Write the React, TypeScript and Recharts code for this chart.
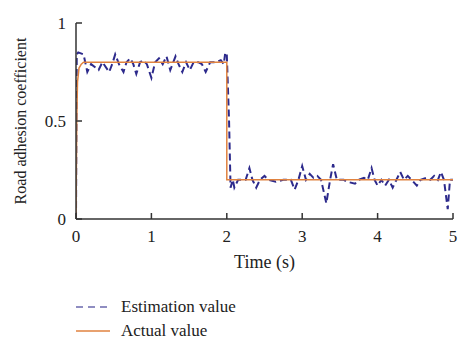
import React from "react";
import { LineChart, Line, XAxis, YAxis, Legend } from "recharts";

const estTime = [
  0, 0.01, 0.03, 0.1, 0.15, 0.2, 0.3, 0.35, 0.44, 0.48, 0.52, 0.57, 0.63, 0.67, 0.72, 0.76, 0.8, 0.85, 0.89,
  0.94, 1.0, 1.05, 1.1, 1.15, 1.2, 1.25, 1.32, 1.36, 1.41, 1.46, 1.51, 1.56, 1.62, 1.67, 1.72, 1.78, 1.85,
  1.92, 1.96, 1.98, 2.0, 2.03, 2.05, 2.08, 2.1, 2.15, 2.25, 2.3, 2.34, 2.39, 2.44, 2.5, 2.55, 2.65, 2.75,
  2.85, 2.9, 2.95, 3.0, 3.05, 3.1, 3.15, 3.2, 3.25, 3.32, 3.37, 3.41, 3.46, 3.55, 3.6, 3.7, 3.75, 3.82,
  3.87, 3.92, 3.96, 4.0, 4.05, 4.1, 4.15, 4.2, 4.25, 4.3, 4.35, 4.4, 4.45, 4.52, 4.57, 4.65, 4.7, 4.75,
  4.8, 4.84, 4.88, 4.93, 4.96, 5.0,
];
const estValue = [
  0, 0.84, 0.85, 0.84, 0.75, 0.79, 0.76, 0.8, 0.75, 0.79, 0.84, 0.79, 0.75, 0.8, 0.82, 0.79, 0.74, 0.8, 0.81,
  0.79, 0.72, 0.8, 0.82, 0.79, 0.83, 0.76, 0.83, 0.79, 0.75, 0.8, 0.76, 0.8, 0.8, 0.79, 0.75, 0.8, 0.8,
  0.81, 0.79, 0.85, 0.84, 0.5, 0.16, 0.2, 0.16, 0.2, 0.2, 0.26, 0.2, 0.16, 0.2, 0.22, 0.2, 0.19, 0.2,
  0.2, 0.15, 0.2, 0.27, 0.2, 0.23, 0.21, 0.22, 0.2, 0.08, 0.2, 0.28, 0.2, 0.2, 0.19, 0.18, 0.2, 0.21,
  0.2, 0.26, 0.2, 0.17, 0.2, 0.17, 0.2, 0.16, 0.2, 0.24, 0.2, 0.22, 0.2, 0.17, 0.2, 0.21, 0.2, 0.22,
  0.2, 0.24, 0.2, 0.05, 0.2, 0.2,
];

const actTime = [0, 0.01, 0.02, 0.04, 0.07, 0.1, 2.0, 2.0, 5.0];
const actValue = [0, 0.5, 0.7, 0.77, 0.79, 0.8, 0.8, 0.2, 0.2];

const xTicks = [0, 1, 2, 3, 4, 5];
const yTicks = [0, 0.5, 1];

const estData = estTime.map((t, i) => ({ t, v: estValue[i] }));
const actData = actTime.map((t, i) => ({ t, v: actValue[i] }));

const NAVY = "#2d2a8c";
const ORANGE = "#e0823f";
const AXIS = "#333";
const FONT = "Liberation Serif";

// ticks point inward, so the tick mark is drawn by hand next to its label
const X_GAP = 11;
const Y_GAP = 10;

function XTick({ x, y, payload }: any) {
  const axisY = y - X_GAP;
  return (
    <g>
      <line x1={x} y1={axisY} x2={x} y2={axisY - 6} stroke={AXIS} strokeWidth={1.5} />
      <text x={x} y={y} dy="0.71em" textAnchor="middle" fill="#222" style={{ fontSize: 17, fontFamily: FONT }}>
        {payload.value}
      </text>
    </g>
  );
}

function YTick({ x, y, payload }: any) {
  const axisX = x + Y_GAP;
  return (
    <g>
      <line x1={axisX} y1={y} x2={axisX + 6} y2={y} stroke={AXIS} strokeWidth={1.5} />
      <text x={x} y={y} dy="0.355em" textAnchor="end" fill="#222" style={{ fontSize: 17, fontFamily: FONT }}>
        {payload.value}
      </text>
    </g>
  );
}

function LegendBox() {
  return (
    <div style={{ fontFamily: FONT, fontSize: 17, color: "#222", lineHeight: "24px" }}>
      <div style={{ display: "flex", alignItems: "center" }}>
        <svg width={34} height={10} style={{ marginRight: 11 }}>
          <line x1={0} y1={5} x2={34} y2={5} stroke={NAVY} strokeWidth={1.5} strokeDasharray="7 5" opacity={0.7} />
        </svg>
        <span>Estimation value</span>
      </div>
      <div style={{ display: "flex", alignItems: "center" }}>
        <svg width={34} height={10} style={{ marginRight: 11 }}>
          <line x1={0} y1={5} x2={34} y2={5} stroke={ORANGE} strokeWidth={1.5} />
        </svg>
        <span>Actual value</span>
      </div>
    </div>
  );
}

export default function App() {
  return (
    <div style={{ position: "absolute", left: 0, top: 0, width: 474, height: 352, background: "#fff", fontFamily: FONT }}>
      <LineChart width={474} height={352} margin={{ top: 23, right: 21, left: 0, bottom: 83 }}>
        <XAxis
          type="number"
          dataKey="t"
          domain={[0, 5]}
          ticks={xTicks}
          allowDataOverflow
          stroke={AXIS}
          strokeWidth={1.5}
          tickLine={false}
          tickSize={0}
          tickMargin={X_GAP}
          height={50}
          tick={<XTick />}
          label={({ viewBox }: any) => (
            <text
              x={viewBox.x + viewBox.width / 2}
              y={viewBox.y + 49}
              textAnchor="middle"
              fill="#222"
              style={{ fontSize: 18, fontFamily: FONT }}
            >
              Time (s)
            </text>
          )}
        />
        <YAxis
          type="number"
          domain={[0, 1]}
          ticks={yTicks}
          allowDataOverflow
          stroke={AXIS}
          strokeWidth={1.5}
          tickLine={false}
          tickSize={0}
          tickMargin={Y_GAP}
          width={76}
          tick={<YTick />}
          label={({ viewBox }: any) => {
            const cx = 20;
            const cy = viewBox.y + viewBox.height / 2;
            return (
              <text
                x={cx}
                y={cy}
                transform={`rotate(-90 ${cx} ${cy})`}
                textAnchor="middle"
                dominantBaseline="central"
                fill="#222"
                style={{ fontSize: 16, fontFamily: FONT }}
              >
                Road adhesion coefficient
              </text>
            );
          }}
        />
        <Legend
          layout="vertical"
          align="center"
          verticalAlign="middle"
          content={() => <LegendBox />}
          wrapperStyle={{ left: 76, top: 295, width: 250 }}
        />
        <Line
          data={estData}
          dataKey="v"
          type="linear"
          stroke={NAVY}
          strokeWidth={2}
          strokeDasharray="7 4"
          dot={false}
          isAnimationActive={false}
        />
        <Line
          data={actData}
          dataKey="v"
          type="linear"
          stroke={ORANGE}
          strokeWidth={1.5}
          dot={false}
          isAnimationActive={false}
        />
      </LineChart>
    </div>
  );
}
